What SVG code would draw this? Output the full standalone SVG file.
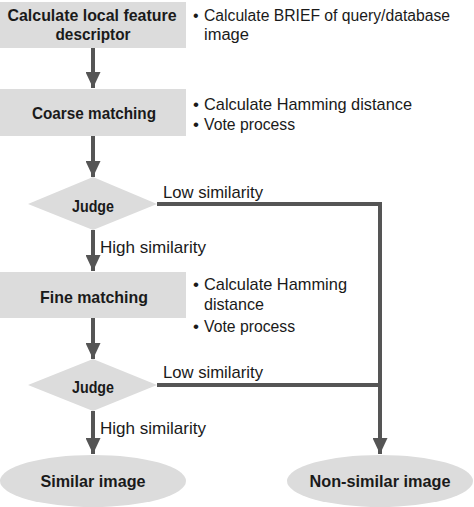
<svg xmlns="http://www.w3.org/2000/svg" width="474" height="507" viewBox="0 0 474 507">
<defs>
<style>
.node{fill:#dcdcdc;stroke:none}
.t{font-family:"Liberation Sans",Arial,sans-serif;font-size:17px;fill:#1a1a1a}
.s{font-size:16px}
.b{font-weight:bold;text-anchor:middle}
.ln{fill:none;stroke:#555555;stroke-width:4}
</style>
<marker id="ah" viewBox="0 0 16 15" refX="16" refY="7.5" markerWidth="16" markerHeight="15" markerUnits="userSpaceOnUse" orient="auto">
<path d="M0,0 L16,7.5 L0,15 Z" fill="#555555"/>
</marker>
</defs>
<rect width="474" height="507" fill="#ffffff"/>

<g id="connectors">
<line class="ln" x1="93" y1="48" x2="93" y2="88" marker-end="url(#ah)"/>
<line class="ln" x1="93" y1="136" x2="93" y2="177" marker-end="url(#ah)"/>
<line class="ln" x1="93" y1="230" x2="93" y2="271" marker-end="url(#ah)"/>
<line class="ln" x1="93" y1="318" x2="93" y2="359" marker-end="url(#ah)"/>
<line class="ln" x1="93" y1="411" x2="93" y2="454" marker-end="url(#ah)"/>
<polyline class="ln" points="157,204 380,204 380,454" marker-end="url(#ah)"/>
<line class="ln" x1="157" y1="385" x2="380" y2="385"/>
<text class="t" x="163" y="198" textLength="100" lengthAdjust="spacingAndGlyphs">Low similarity</text>
<text class="t" x="100" y="253" textLength="106" lengthAdjust="spacingAndGlyphs">High similarity</text>
<text class="t" x="163" y="378" textLength="100" lengthAdjust="spacingAndGlyphs">Low similarity</text>
<text class="t" x="100" y="434" textLength="106" lengthAdjust="spacingAndGlyphs">High similarity</text>
</g>

<g id="n1">
<rect class="node" x="0" y="2" width="186" height="46"/>
<text class="t s b" x="92" y="21" textLength="169" lengthAdjust="spacingAndGlyphs">Calculate local feature</text>
<text class="t s b" x="93" y="40" textLength="75" lengthAdjust="spacingAndGlyphs">descriptor</text>
</g>
<g id="note1">
<text class="t s" x="193" y="21">•</text>
<text class="t s" x="204" y="21" textLength="246" lengthAdjust="spacingAndGlyphs">Calculate BRIEF of query/database</text>
<text class="t s" x="204" y="40" textLength="45" lengthAdjust="spacingAndGlyphs">image</text>
</g>

<g id="n2">
<rect class="node" x="0" y="89" width="186" height="47"/>
<text class="t b" x="94" y="119" textLength="124" lengthAdjust="spacingAndGlyphs">Coarse matching</text>
</g>
<g id="note2">
<text class="t" x="193" y="110">•</text>
<text class="t" x="204" y="110" textLength="208" lengthAdjust="spacingAndGlyphs">Calculate Hamming distance</text>
<text class="t" x="193" y="130">•</text>
<text class="t" x="204" y="130" textLength="91" lengthAdjust="spacingAndGlyphs">Vote process</text>
</g>

<g id="judge1">
<polygon class="node" points="93,177 157,204 93,230 28,204"/>
<text class="t b" x="93" y="212" textLength="42" lengthAdjust="spacingAndGlyphs">Judge</text>
</g>

<g id="n3">
<rect class="node" x="0" y="272" width="186" height="46"/>
<text class="t b" x="94" y="303" textLength="108" lengthAdjust="spacingAndGlyphs">Fine matching</text>
</g>
<g id="note3">
<text class="t" x="193" y="290">•</text>
<text class="t" x="204" y="290" textLength="143" lengthAdjust="spacingAndGlyphs">Calculate Hamming</text>
<text class="t" x="204" y="310" textLength="60" lengthAdjust="spacingAndGlyphs">distance</text>
<text class="t" x="193" y="332">•</text>
<text class="t" x="204" y="332" textLength="91" lengthAdjust="spacingAndGlyphs">Vote process</text>
</g>

<g id="judge2">
<polygon class="node" points="93,359 157,385 93,411 28,385"/>
<text class="t b" x="93" y="393" textLength="42" lengthAdjust="spacingAndGlyphs">Judge</text>
</g>

<g id="similar">
<ellipse class="node" cx="93" cy="481" rx="93" ry="26"/>
<text class="t b" x="93" y="487" textLength="105" lengthAdjust="spacingAndGlyphs">Similar image</text>
</g>
<g id="nonsimilar">
<ellipse class="node" cx="380" cy="481" rx="93" ry="26"/>
<text class="t b" x="380" y="487" textLength="141" lengthAdjust="spacingAndGlyphs">Non-similar image</text>
</g>
</svg>
